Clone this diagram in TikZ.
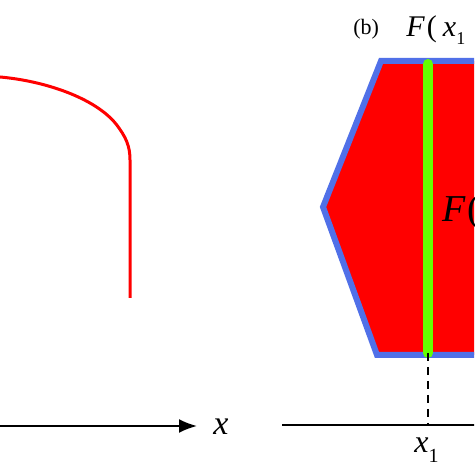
\documentclass[tikz,border=0pt]{standalone}
\usepackage{fontspec}
\setmainfont{Liberation Serif}
\usetikzlibrary{arrows.meta}
\definecolor{hexred}{RGB}{255,0,0}
\definecolor{hexblue}{RGB}{80,112,232}
\definecolor{bargreen}{RGB}{100,255,0}
\newcommand{\lowone}[2]{\raisebox{-#1}{\fontsize{#2}{#2}\selectfont 1}}
\tikzset{
  axisline/.style={line width=1pt},
  lbl/.style={inner sep=0pt, anchor=base west},
}
\begin{document}
\begin{tikzpicture}[x=0.5pt, y=0.5pt]
    \useasboundingbox (0,0) rectangle (474,474);
    \clip (0,0) rectangle (474,474);

    % Panel (a): curve and x axis
    \draw[hexred, line width=1.5pt, line join=round]
      (0,397) .. controls (45,393) and (95,376) .. (116,350)
      .. controls (126,337) and (130,328) .. (130,314) -- (130,176);
    \coordinate (ax0) at (0,48);
    \coordinate (ax1) at (197,48);
    \draw[axisline, -{Latex[length=9pt, width=7pt]}] (ax0) -- (ax1);
    \node[lbl, font=\fontsize{17}{19}\selectfont] (xa) at (213,39) {\textit{x}};

    % Panel (b): hexagon
    \draw[fill=hexred, draw=hexblue, line width=3pt, line join=miter]
      (381,413) -- (540,413) -- (540,119) -- (377,119) -- (323,267) -- cycle;

    % Green bar at x1
    \coordinate (gtop) at (428,410);
    \coordinate (gbot) at (428,121);
    \draw[bargreen, line width=5pt, line cap=round] (gtop) -- (gbot);

    % Axis and dashed drop line
    \coordinate (bx0) at (282,49);
    \coordinate (bx1) at (480,49);
    \coordinate (foot) at (428,49);
    \draw[axisline] (bx0) -- (bx1);
    \draw[axisline, dash pattern=on 4pt off 3pt] (gbot) -- (foot);

    % Labels
    \node[lbl, font=\fontsize{11}{13}\selectfont] (tag) at (353,439) {(b)};
    \node[lbl, font=\fontsize{15}{17}\selectfont] (ftop) at (406,437)
      {\textit{F}\hspace{1pt}(\hspace{3pt}\textit{x}\lowone{4pt}{9}};
    \node[lbl, font=\fontsize{19}{21}\selectfont] (fmid) at (442,252)
      {\textit{F}\hspace{1pt}(};
    \node[lbl, font=\fontsize{16}{18}\selectfont] (x1) at (414,21)
      {\textit{x}\lowone{5pt}{10}};
  \end{tikzpicture}
\end{document}
